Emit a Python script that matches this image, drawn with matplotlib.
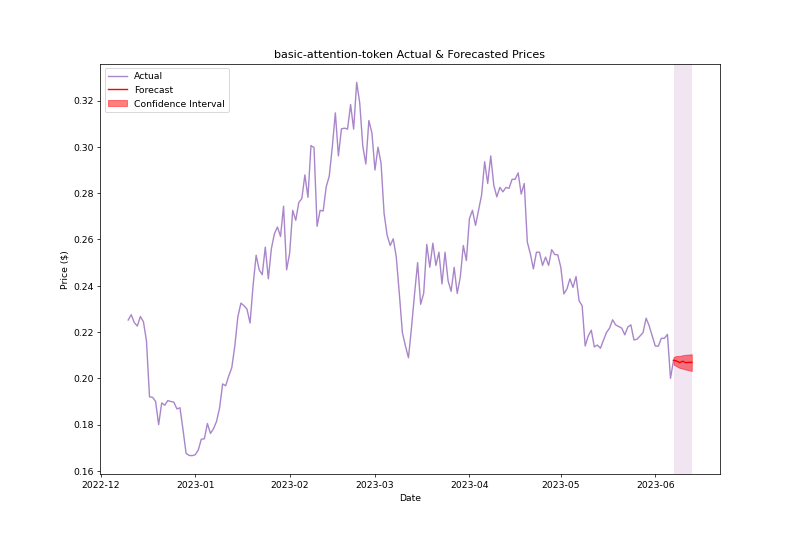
import matplotlib
matplotlib.use("Agg")
import matplotlib.pyplot as plt
import pandas as pd
import numpy as np

actual_start = "2022-12-10"
actual_values = [
    # Dec 10 - Dec 31
    0.2252, 0.2275, 0.2241, 0.2226, 0.2267, 0.2245, 0.2162, 0.1920, 0.1918, 0.1900,
    0.1800, 0.1894, 0.1884, 0.1904, 0.1900, 0.1897, 0.1868, 0.1873, 0.1778, 0.1676,
    0.1667, 0.1666,
    # Jan
    0.1670, 0.1690, 0.1737, 0.1739, 0.1805, 0.1762, 0.1782, 0.1814, 0.1872, 0.1976,
    0.1968, 0.2010, 0.2046, 0.2140, 0.2266, 0.2325, 0.2314, 0.2299, 0.2239, 0.2402,
    0.2532, 0.2469, 0.2448, 0.2567, 0.2430, 0.2560, 0.2625, 0.2654, 0.2613, 0.2744,
    0.2469,
    # Feb
    0.2541, 0.2726, 0.2683, 0.2760, 0.2777, 0.2879, 0.2782, 0.3006, 0.2997, 0.2657,
    0.2726, 0.2723, 0.2828, 0.2874, 0.3001, 0.3147, 0.2961, 0.3078, 0.3081, 0.3077,
    0.3183, 0.3077, 0.3279, 0.3190, 0.3004, 0.2926, 0.3114, 0.3060,
    # Mar
    0.2900, 0.2999, 0.2929, 0.2712, 0.2618, 0.2574, 0.2603, 0.2524, 0.2365, 0.2198,
    0.2140, 0.2089, 0.2220, 0.2365, 0.2500, 0.2320, 0.2368, 0.2579, 0.2480, 0.2584,
    0.2488, 0.2545, 0.2408, 0.2545, 0.2422, 0.2376, 0.2480, 0.2367, 0.2437, 0.2574,
    0.2509,
    # Apr
    0.2690, 0.2726, 0.2661, 0.2726, 0.2792, 0.2936, 0.2842, 0.2961, 0.2835, 0.2784,
    0.2825, 0.2806, 0.2825, 0.2821, 0.2860, 0.2860, 0.2888, 0.2796, 0.2842, 0.2589,
    0.2538, 0.2473, 0.2545, 0.2545, 0.2488, 0.2524, 0.2488, 0.2556, 0.2535, 0.2534,
    # May
    0.2480, 0.2365, 0.2386, 0.2430, 0.2393, 0.2440, 0.2335, 0.2314, 0.2140, 0.2183,
    0.2208, 0.2136, 0.2144, 0.2130, 0.2165, 0.2198, 0.2217, 0.2253, 0.2231, 0.2224,
    0.2217, 0.2188, 0.2222, 0.2231, 0.2166, 0.2169, 0.2183, 0.2198, 0.2260, 0.2227,
    0.2183,
    # Jun 1 - Jun 7
    0.2140, 0.2139, 0.2173, 0.2173, 0.2190, 0.2000, 0.2078,
]

forecast_start = "2023-06-07"
forecast_values = [0.2078, 0.2075, 0.2068, 0.2074, 0.2068, 0.2069, 0.2069]
forecast_lower = [0.2060, 0.2052, 0.2045, 0.2042, 0.2038, 0.2035, 0.2032]
forecast_upper = [0.2092, 0.2097, 0.2097, 0.2100, 0.2102, 0.2103, 0.2104]

actual_dates = pd.date_range(actual_start, periods=len(actual_values), freq="D")
forecast_dates = pd.date_range(forecast_start, periods=len(forecast_values), freq="D")

fig, ax = plt.subplots(figsize=(12, 8), dpi=800 / 12)
ax.plot(actual_dates, actual_values, color="tab:purple", alpha=0.8, label="Actual")
ax.plot(forecast_dates, forecast_values, color="red", label="Forecast")
ax.fill_between(forecast_dates, forecast_lower, forecast_upper, color="red", alpha=0.5,
                label="Confidence Interval")
ax.axvspan(forecast_dates[0], forecast_dates[-1], facecolor="purple", alpha=0.1,
           linewidth=0)
ax.set_title("basic-attention-token Actual & Forecasted Prices")
ax.set_xlabel("Date")
ax.set_ylabel("Price ($)")
ax.legend(loc="upper left")
fig.savefig("out.png", dpi=800 / 12)
